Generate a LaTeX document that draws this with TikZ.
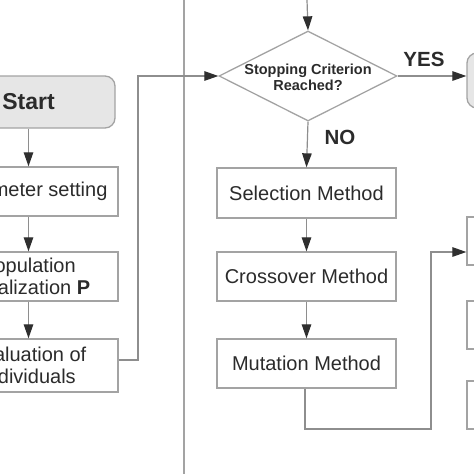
\documentclass[tikz,border=0pt]{standalone}
\usepackage{fontspec}
\setmainfont{Liberation Sans}
\usetikzlibrary{arrows.meta,shapes.geometric}
\definecolor{boxgray}{HTML}{A3A3A3}
\definecolor{linegray}{HTML}{8E8E8E}
\definecolor{textdark}{HTML}{2B2B2B}
\definecolor{arrowdark}{HTML}{2F2F2F}
\definecolor{startfill}{HTML}{E6E6E6}
\begin{document}
\begin{tikzpicture}[x=1pt,y=-1pt,
  box/.style={draw=boxgray, line width=1.3pt, minimum width=179pt, minimum height=49pt,
    inner sep=0pt, text=textdark, align=center, font=\fontsize{20}{22}\selectfont},
  term/.style={box, rounded corners=10pt, fill=startfill, font=\fontsize{23}{26}\bfseries},
  dec/.style={draw=boxgray, line width=1.3pt, diamond, minimum width=178pt, minimum height=90pt, inner sep=0pt},
  conn/.style={draw=linegray, line width=1.2pt, -{Triangle[length=14pt,width=9.5pt,color=arrowdark]}},
  plain/.style={draw=linegray, line width=1.2pt},
  lab/.style={text=textdark, font=\fontsize{20.5}{22}\bfseries, inner sep=0pt}]
\useasboundingbox (0,0) rectangle (474,474);
\clip (0,0) rectangle (474,474);
% separator
\draw[plain, draw=boxgray] (184,0) -- (184,474);
% left column
\node[term, minimum width=173pt, minimum height=52pt] (st) at (28.5,102) {Start};
\node[box] (pa) at (28.5,191.5) {Parameter setting};
\node[box] (po) at (28.5,276.5) {Population\\Initialization \textbf{P}};
\node[box, minimum height=53pt] (ev) at (28.5,365.5) {Evaluation of\\Individuals};
% right column
\node[dec] (d) at (308,76) {};
\node[text=textdark, font=\fontsize{14.5}{16}\bfseries, align=center, inner sep=0pt] (dt) at (308,77) {Stopping Criterion\\Reached?};
\node[box, minimum height=50pt] (se) at (306.5,193) {Selection Method};
\node[box] (cr) at (306.5,276.5) {Crossover Method};
\node[box] (mu) at (306.5,363.5) {Mutation Method};
% far right
\node[box, rounded corners=10pt, fill=startfill, minimum height=55pt] (r1) at (556.5,80.5) {};
\node[box, minimum height=48pt] (r2) at (556.5,241) {};
\node[box, minimum height=48pt] (r3) at (556.5,325) {};
\node[box, minimum height=48pt] (r4) at (556.5,405) {};
% labels
\node[lab] (yes) at (424,59) {YES};
\node[lab] (no) at (340,137) {NO};
% coordinates
\coordinate (top) at (307,0);
\coordinate (j1) at (138,360);
\coordinate (j2) at (431,429);
\coordinate (j3) at (431,252);
% connectors
\draw[conn] (st) -- (pa);
\draw[conn] (pa) -- (po);
\draw[conn] (po) -- (ev);
\draw[conn] (top) -- (d.north);
\draw[conn] (d.south) -- (se.north);
\draw[conn] (se) -- (cr);
\draw[conn] (cr) -- (mu);
\draw[conn] (d.east) -- (d.east -| r1.west);
\draw[conn] (ev.east |- j1) -- (j1) |- (d.west);
\draw[conn] ([xshift=-1.5pt]mu.south) |- (j2) -- (j3) -- (r2.west |- j3);
\end{tikzpicture}
\end{document}
